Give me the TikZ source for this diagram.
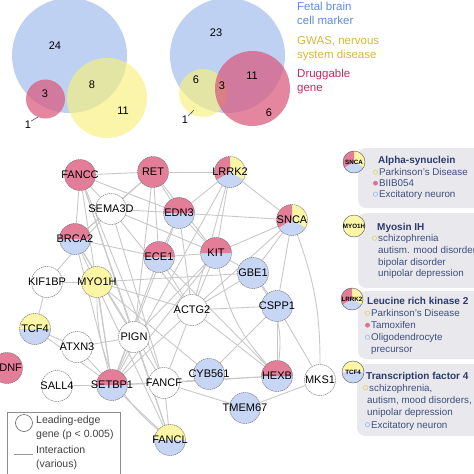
\documentclass[tikz,border=0pt]{standalone}
\usepackage{fontspec}
\setmainfont{Liberation Sans}
\pgfdeclarelayer{edgelayer}
\pgfdeclarelayer{filllayer}
\pgfsetlayers{edgelayer,filllayer,main}
\definecolor{pk}{HTML}{E47D98}
\definecolor{bl}{HTML}{C7D6F4}
\definecolor{ye}{HTML}{FBF6A6}
\definecolor{vb}{HTML}{9DB9EC}
\definecolor{vy}{HTML}{F7F07A}
\definecolor{vp}{HTML}{D9587C}
\definecolor{edgec}{HTML}{C8C8C8}
\definecolor{ttl}{HTML}{2C3B6B}
\definecolor{bodyc}{HTML}{3E4E7E}
\definecolor{boxc}{HTML}{E8E8ED}
\definecolor{legb}{HTML}{5B8DE0}
\definecolor{legy}{HTML}{D8B63A}
\definecolor{legp}{HTML}{C42B5F}
\definecolor{buly}{HTML}{E3D45A}
\definecolor{bulp}{HTML}{E0708E}
\definecolor{bulb}{HTML}{9FB8E8}
\newcommand\Rn{15.5}
\newcommand\fillfull[3]{\begin{pgfonlayer}{filllayer}\fill[#2] (#1.center) circle (#3);\end{pgfonlayer}}
\newcommand\fillhalf[4]{\begin{pgfonlayer}{filllayer}\fill[#3] (#1.center) circle (#4);\fill[#2] (#1.center) ++(#4,0) arc[start angle=0,end angle=-180,radius=#4] -- cycle;\end{pgfonlayer}}
\newcommand\fillpie[2]{\begin{pgfonlayer}{filllayer}%
 \fill[ye] (#1.center) -- ++(-90:#2) arc[start angle=-90,end angle=30,radius=#2] -- cycle;%
 \fill[bl] (#1.center) -- ++(30:#2) arc[start angle=30,end angle=150,radius=#2] -- cycle;%
 \fill[pk] (#1.center) -- ++(150:#2) arc[start angle=150,end angle=270,radius=#2] -- cycle;%
 \end{pgfonlayer}}
\newcommand\gene[3]{\node[gnode, label={[lbl]center:#1}] (#1) at (#2,#3) {};}
\tikzset{
 gnode/.style={circle, minimum size=31, inner sep=0pt, draw=black!60, line width=0.4pt, dash pattern=on 1.4pt off 0.7pt},
 lbl/.style={font=\fontsize{11}{12}\selectfont, text=black, inner sep=0pt},
 lnk/.style={draw=edgec, line width=0.9pt},
 icon/.style={circle, minimum size=22, inner sep=0pt, draw=black!65, line width=0.4pt},
 ilbl/.style={font=\bfseries\fontsize{6.2}{7}\selectfont, text=black, inner sep=0pt},
 vnum/.style={font=\fontsize{11}{12}\selectfont, text=black, inner sep=0pt},
 legt/.style={font=\fontsize{11.5}{14}\selectfont, anchor=base west, inner sep=0pt},
 ttlt/.style={font=\bfseries\fontsize{10}{12}\selectfont, text=ttl, anchor=base west, inner sep=0pt},
 bodt/.style={font=\fontsize{9.8}{11}\selectfont, text=bodyc, anchor=base west, inner sep=0pt},
 pbox/.style={fill=boxc, rounded corners=8pt},
 lgt/.style={font=\fontsize{10.5}{12}\selectfont, text=black!75, anchor=base west, inner sep=0pt},
}
\begin{document}
\begin{tikzpicture}[x=1pt,y=-1pt]
\useasboundingbox (0,0) rectangle (474,474);
\clip (0,0) rectangle (474,474);
% ---------- Venn 1 ----------
\fill[vb, fill opacity=0.65] (69.5,55.5) circle (57.5);
\fill[vy, fill opacity=0.65] (107,98) circle (40);
\fill[vp, fill opacity=0.72] (45.5,99) circle (19.5);
\node[vnum] (v1a) at (55,46) {24};
\node[vnum] (v1b) at (92,85) {8};
\node[vnum] (v1c) at (45,94) {3};
\node[vnum] (v1d) at (123,111) {11};
\node[vnum] (v1e) at (28,125) {1};
\coordinate (v1t) at (38,117);
\draw[black!70, line width=0.6pt] (v1e.north east) -- (v1t);
% ---------- Venn 2 ----------
\fill[vb, fill opacity=0.65] (227.5,55.5) circle (57.5);
\fill[vy, fill opacity=0.65] (203,93) circle (24);
\fill[vp, fill opacity=0.72] (252.5,88.5) circle (37.5);
\node[vnum] (v2a) at (216,33) {23};
\node[vnum] (v2b) at (196,80) {6};
\node[vnum] (v2c) at (222,86) {3};
\node[vnum] (v2d) at (252,76) {11};
\node[vnum] (v2e) at (269,113) {6};
\node[vnum] (v2f) at (185,120) {1};
\coordinate (v2t) at (194,110);
\draw[black!70, line width=0.6pt] (v2f.north east) -- (v2t);
% ---------- Venn legend ----------
\node[legt, text=legb] (lg1) at (297,10) {Fetal brain};
\node[legt, text=legb] (lg2) at (297,24) {cell marker};
\node[legt, text=legy] (lg3) at (297,44) {GWAS, nervous};
\node[legt, text=legy] (lg4) at (297,58) {system disease};
\node[legt, text=legp] (lg5) at (297,77) {Druggable};
\node[legt, text=legp] (lg6) at (297,91) {gene};
% ---------- Network nodes ----------
\gene{FANCC}{80}{175}
\gene{RET}{153}{172}
\gene{LRRK2}{230}{172}
\gene{SEMA3D}{111}{209}
\gene{EDN3}{179}{213}
\gene{SNCA}{292}{220}
\gene{BRCA2}{75}{239}
\gene{ECE1}{159}{257}
\gene{KIT}{216}{253}
\gene{MYO1H}{97}{282}
\gene{KIF1BP}{47}{282}
\gene{GBE1}{253}{273}
\gene{ACTG2}{192}{310}
\gene{CSPP1}{277}{306}
\gene{TCF4}{35}{329}
\gene{ATXN3}{77}{347}
\gene{PIGN}{134}{337}
\gene{BDNF}{7}{368}
\gene{SALL4}{57}{386}
\gene{SETBP1}{112}{385}
\gene{FANCF}{164}{383}
\gene{CYB561}{209}{374}
\gene{HEXB}{277}{376}
\gene{MKS1}{320}{380}
\gene{TMEM67}{245}{408}
\gene{FANCL}{170}{440}
% fills
\fillfull{FANCC}{pk}{\Rn}
\fillfull{RET}{pk}{\Rn}
\fillpie{LRRK2}{\Rn}
\fillhalf{EDN3}{pk}{bl}{\Rn}
\fillpie{SNCA}{\Rn}
\fillhalf{BRCA2}{pk}{bl}{\Rn}
\fillhalf{ECE1}{pk}{bl}{\Rn}
\fillhalf{KIT}{pk}{bl}{\Rn}
\fillfull{MYO1H}{ye}{\Rn}
\fillfull{GBE1}{bl}{\Rn}
\fillfull{CSPP1}{bl}{\Rn}
\fillhalf{TCF4}{ye}{bl}{\Rn}
\fillfull{BDNF}{pk}{\Rn}
\fillhalf{SETBP1}{pk}{bl}{\Rn}
\fillfull{CYB561}{bl}{\Rn}
\fillhalf{HEXB}{pk}{bl}{\Rn}
\fillfull{TMEM67}{bl}{\Rn}
\fillhalf{FANCL}{ye}{bl}{\Rn}
\fillfull{SEMA3D}{white}{\Rn}
\fillfull{KIF1BP}{white}{\Rn}
\fillfull{ACTG2}{white}{\Rn}
\fillfull{ATXN3}{white}{\Rn}
\fillfull{PIGN}{white}{\Rn}
\fillfull{SALL4}{white}{\Rn}
\fillfull{FANCF}{white}{\Rn}
\fillfull{MKS1}{white}{\Rn}
% edges
\begin{pgfonlayer}{edgelayer}
\foreach \a/\b in {FANCC/RET, RET/LRRK2, FANCC/SEMA3D, FANCC/BRCA2, FANCC/FANCF, FANCC/FANCL,
 FANCC/SETBP1, FANCC/EDN3, RET/EDN3, RET/SEMA3D, RET/ECE1, RET/KIT, RET/BRCA2, RET/PIGN,
 LRRK2/SNCA, LRRK2/KIT, LRRK2/EDN3, LRRK2/ACTG2, LRRK2/SETBP1, SEMA3D/EDN3, SEMA3D/BRCA2,
 SEMA3D/KIT, SEMA3D/ACTG2, EDN3/ECE1, EDN3/KIT, EDN3/SNCA, EDN3/ACTG2, EDN3/SETBP1,
 SNCA/KIT, SNCA/GBE1, SNCA/CSPP1, SNCA/ACTG2, BRCA2/FANCF, BRCA2/FANCL, BRCA2/ECE1, BRCA2/PIGN,
 ECE1/KIT, ECE1/SETBP1, ECE1/ACTG2, ECE1/HEXB, KIT/GBE1, KIT/SETBP1, KIT/PIGN, KIT/ACTG2,
 MYO1H/GBE1, MYO1H/KIF1BP, MYO1H/SETBP1, MYO1H/CYB561, MYO1H/ACTG2, KIF1BP/TCF4, KIF1BP/SEMA3D,
 GBE1/CSPP1, GBE1/ACTG2, CSPP1/HEXB, CSPP1/MKS1, CSPP1/CYB561, CSPP1/ACTG2,
 ACTG2/HEXB, ACTG2/FANCF, ACTG2/SETBP1, TCF4/ATXN3, TCF4/SETBP1, ATXN3/SETBP1, ATXN3/PIGN,
 PIGN/SETBP1, PIGN/FANCL, SETBP1/SALL4, SETBP1/FANCF, SETBP1/HEXB, SETBP1/FANCL,
 FANCF/FANCL, FANCF/TMEM67, TMEM67/MKS1, FANCF/HEXB, SEMA3D/FANCF, BRCA2/SETBP1, FANCC/PIGN}
 \draw[lnk] (\a) -- (\b);
\draw[lnk] (GBE1) to[bend left=20] (HEXB);
\draw[lnk] (KIT) to[bend right=15] (HEXB);
\draw[lnk] (SNCA) to[bend left=10] (MKS1);
\draw[lnk] (MYO1H) to[bend right=25] (FANCL);
% panel boxes
\fill[pbox] (358,148) rectangle (490,208);
\fill[pbox] (358,213) rectangle (490,288);
\fill[pbox] (358,291) rectangle (490,359);
\fill[pbox] (357,364) rectangle (490,436);
\end{pgfonlayer}
% ---------- Right panel ----------
\node[icon, label={[ilbl]center:SNCA}] (iSNCA) at (354,162) {};
\node[icon, label={[ilbl]center:MYO1H}] (iMYO1H) at (354,226) {};
\node[icon, label={[ilbl]center:LRRK2}] (iLRRK2) at (352,299) {};
\node[icon, label={[ilbl]center:TCF4}] (iTCF4) at (353,372) {};
\fillpie{iSNCA}{11}
\fillfull{iMYO1H}{ye}{11}
\fillpie{iLRRK2}{11}
\fillhalf{iTCF4}{ye}{bl}{11}
% box 1
\node[ttlt] (t1) at (378,163) {Alpha-synuclein};
\node[bodt] (b11) at (379,175.5) {Parkinson's Disease};
\node[bodt] (b12) at (379,186.5) {BIIB054};
\node[bodt] (b13) at (379,197.5) {Excitatory neuron};
% box 2
\node[ttlt] (t2) at (377,230) {Myosin IH};
\node[bodt] (b21) at (378,241.5) {schizophrenia};
\node[bodt] (b22) at (378,253.5) {autism. mood disorders};
\node[bodt] (b23) at (378,265) {bipolar disorder};
\node[bodt] (b24) at (378,276.5) {unipolar depression};
% box 3
\node[ttlt] (t3) at (367,304.5) {Leucine rich kinase 2};
\node[bodt] (b31) at (371,316.5) {Parkinson's Disease};
\node[bodt] (b32) at (371,328.5) {Tamoxifen};
\node[bodt] (b33) at (371,340.5) {Oligodendrocyte};
\node[bodt] (b34) at (371,352.5) {precursor};
% box 4
\node[ttlt] (t4) at (366,379) {Transcription factor 4};
\node[bodt] (b41) at (369,391) {schizophrenia,};
\node[bodt] (b42) at (367,403) {autism, mood disorders,};
\node[bodt] (b43) at (367,415) {unipolar depression};
\node[bodt] (b44) at (371,428) {Excitatory neuron};
% bullets
\foreach \n in {b11,b21,b31,b41}
 \draw[buly, line width=0.6pt] ([xshift=-3.5pt, yshift=3.3pt]\n.base west) circle (2.2);
\foreach \n in {b12,b32}
 \fill[bulp] ([xshift=-3.5pt, yshift=3.3pt]\n.base west) circle (2.4);
\foreach \n in {b13,b33,b44}
 \draw[bulb, line width=0.6pt] ([xshift=-3.5pt, yshift=3.3pt]\n.base west) circle (2.2);
% ---------- bottom-left legend ----------
\draw[black!45, line width=0.5pt] (7,412) rectangle (120,490);
\node[circle, minimum size=17, inner sep=0pt, draw=black!70, line width=0.5pt] (lc) at (24,423) {};
\coordinate (la) at (14,454);
\coordinate (lb) at (33,454);
\draw[black!40, line width=0.9pt] (la) -- (lb);
\node[lgt] (l1) at (36,423) {Leading-edge};
\node[lgt] (l2) at (36,437) {gene (p < 0.005)};
\node[lgt] (l3) at (36,453) {Interaction};
\node[lgt] (l4) at (36,467) {(various)};
\end{tikzpicture}
\end{document}
